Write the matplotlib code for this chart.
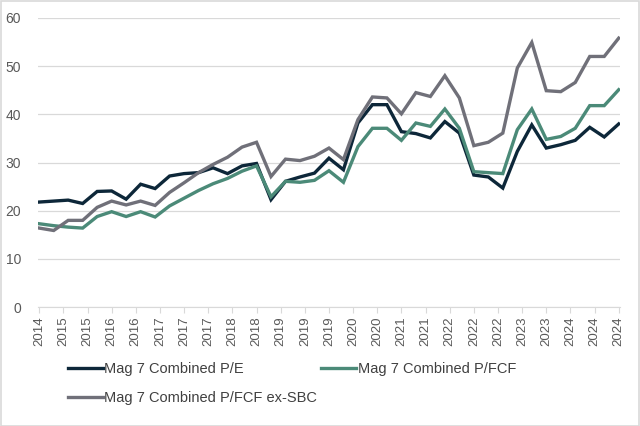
import numpy as np
import matplotlib
matplotlib.use("Agg")
import matplotlib.pyplot as plt
from matplotlib.patches import Rectangle

# quarterly points, 2014 -> 2024
pe = [21.8, 22.0, 22.2, 21.5, 24.0, 24.1, 22.4, 25.5, 24.6, 27.2,
      27.7, 27.9, 28.9, 27.7, 29.3, 29.8, 22.3, 26.1, 27.0, 27.8,
      30.9, 28.5, 38.2, 42.0, 42.0, 36.4, 36.0, 35.1, 38.5, 36.1,
      27.4, 27.0, 24.7, 32.3, 37.8, 33.0, 33.7, 34.6, 37.3, 35.3, 38.0]
pfcf = [17.3, 16.9, 16.6, 16.4, 18.8, 19.8, 18.8, 19.8, 18.7, 21.0,
        22.6, 24.2, 25.6, 26.7, 28.2, 29.3, 22.9, 26.1, 25.9, 26.3,
        28.3, 25.9, 33.3, 37.1, 37.1, 34.6, 38.2, 37.5, 41.1, 37.1,
        28.1, 27.9, 27.7, 36.8, 41.1, 34.8, 35.4, 37.1, 41.8, 41.8, 45.1]
pfcf_sbc = [16.4, 15.9, 18.0, 18.0, 20.7, 22.0, 21.2, 22.0, 21.1, 23.8,
            25.8, 27.9, 29.6, 31.1, 33.2, 34.2, 27.1, 30.7, 30.4, 31.3,
            33.0, 30.6, 38.9, 43.6, 43.4, 40.1, 44.5, 43.7, 48.0, 43.4,
            33.5, 34.2, 36.1, 49.6, 54.9, 44.9, 44.7, 46.6, 52.0, 52.0, 55.8]
tick_labels = ['2014', '2015', '2015', '2016', '2016', '2017', '2017', '2017',
               '2018', '2018', '2019', '2019', '2019', '2020', '2020', '2021',
               '2021', '2022', '2022', '2022', '2023', '2023', '2024', '2024', '2024']

names = ['Mag 7 Combined P/E', 'Mag 7 Combined P/FCF', 'Mag 7 Combined P/FCF ex-SBC']
colors = ['#0d2739', '#4b8a78', '#707079']

plt.rcParams['font.family'] = ['Liberation Sans', 'DejaVu Sans']

fig = plt.figure(figsize=(6.4, 4.26), dpi=100)
ax = fig.add_axes([0.059, 0.279, 0.91, 0.679])

x = np.arange(len(pe))
lines = []
for s, n, c in zip([pe, pfcf, pfcf_sbc], names, colors):
    ln, = ax.plot(x, s, color=c, lw=2.4, label=n, solid_joinstyle='miter')
    lines.append(ln)

ax.set_ylim(0, 60)
ax.set_yticks(range(0, 61, 10))
ax.set_xlim(-0.1, 40.1)
ax.set_xticks(np.linspace(0, 40, len(tick_labels)))
ax.set_xticklabels(tick_labels, rotation=90)
ax.grid(axis='y', color='#d9d9d9', lw=0.9)
ax.set_axisbelow(True)
for sp in ['top', 'right', 'left']:
    ax.spines[sp].set_visible(False)
ax.spines['bottom'].set_color('#d9d9d9')
ax.tick_params(axis='y', length=0, pad=12, labelsize=10, labelcolor='#595959')
ax.tick_params(axis='x', length=4, color='#d9d9d9', labelsize=9.5, labelcolor='#595959', pad=3)

# legend fills by column, so order it to read row-wise
order = [0, 2, 1]
fig.legend([lines[i] for i in order], [names[i] for i in order],
           loc='upper left', bbox_to_anchor=(0.085, 0.18), ncol=2, frameon=False,
           fontsize=10.5, handlelength=2.4, handletextpad=0.1, columnspacing=0.3,
           labelspacing=1.0, labelcolor='#404040')

fig.patches.append(Rectangle((0.001, 0.001), 0.997, 0.997, transform=fig.transFigure,
                             fill=False, edgecolor='#d9d9d9', lw=1.2))

fig.savefig('out.png', dpi=100)
